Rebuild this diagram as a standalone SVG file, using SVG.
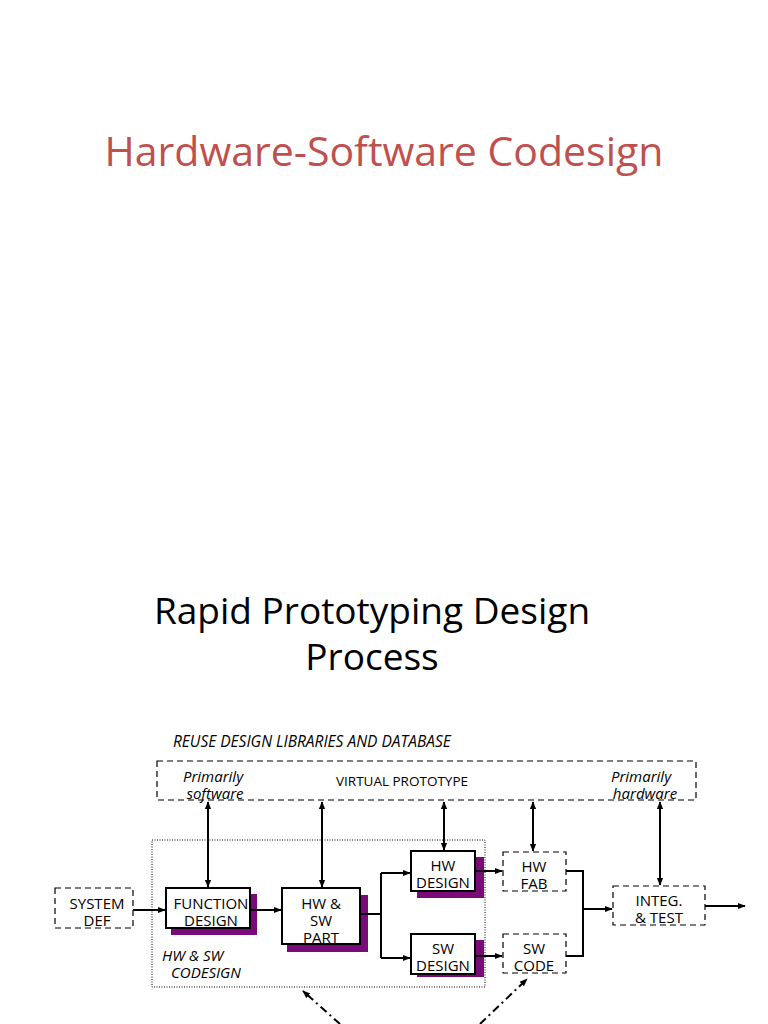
<svg xmlns="http://www.w3.org/2000/svg" width="768" height="1024" viewBox="0 0 768 1024">
<defs>
<marker id="a" viewBox="0 0 10 10" refX="9" refY="5" markerWidth="8" markerHeight="8" markerUnits="userSpaceOnUse" orient="auto-start-reverse"><path d="M0,1 L10,5 L0,9 z" fill="#000"/></marker>
<style>
text{font-family:"Open Sans","Liberation Sans",sans-serif;fill:#000}
.t{font-size:15px;text-anchor:middle}
.i{font-size:15px;font-style:italic}
.box{fill:#fff;stroke:#000;stroke-width:2}
.dash{fill:#fff;stroke:#000;stroke-width:1.2;stroke-dasharray:6,4}
.sh{fill:#7a0a7a}
.c{fill:none;stroke:#000;stroke-width:2}
</style>
</defs>
<rect width="768" height="1024" fill="#fff"/>
<text x="384" y="166" style="font-size:41px;fill:#c0504d" text-anchor="middle">Hardware-Software Codesign</text>
<text x="372" y="624" style="font-size:37px" text-anchor="middle">Rapid Prototyping Design</text>
<text x="372" y="670" style="font-size:37px" text-anchor="middle">Process</text>
<text x="173" y="747" class="i" style="font-size:15.5px">REUSE DESIGN LIBRARIES AND DATABASE</text>
<g id="vp"><rect x="157" y="761" width="539" height="39" class="dash"/>
<text x="213" y="782" class="i" text-anchor="middle">Primarily</text><text x="215" y="799" class="i" text-anchor="middle">software</text>
<text x="402" y="786" class="t" style="font-size:13.5px">VIRTUAL PROTOTYPE</text>
<text x="641" y="782" class="i" text-anchor="middle">Primarily</text><text x="645" y="799" class="i" text-anchor="middle">hardware</text></g>
<g id="codesign"><rect x="152" y="840" width="333" height="147" fill="none" stroke="#000" stroke-width="1" stroke-dasharray="1,1.5"/>
<text x="162" y="961" class="i">HW &amp; SW</text><text x="171" y="978" class="i">CODESIGN</text></g>
<g id="sysdef"><rect x="55" y="888" width="78" height="40" class="dash"/><text x="97" y="909" class="t">SYSTEM</text><text x="97" y="926" class="t">DEF</text></g>
<g id="func"><rect x="171" y="894" width="86" height="41" class="sh"/><rect x="166" y="888" width="84" height="40" class="box"/><text x="211" y="909" class="t">FUNCTION</text><text x="211" y="926" class="t">DESIGN</text></g>
<g id="part"><rect x="287" y="895" width="81" height="57" class="sh"/><rect x="282" y="888" width="78" height="56" class="box"/><text x="321" y="909" class="t">HW &amp;</text><text x="321" y="926" class="t">SW</text><text x="321" y="943" class="t">PART</text></g>
<g id="hwd"><rect x="417" y="857" width="67" height="41" class="sh"/><rect x="411" y="851" width="64" height="40" class="box"/><text x="443" y="871" class="t">HW</text><text x="443" y="888" class="t">DESIGN</text></g>
<g id="swd"><rect x="417" y="940" width="67" height="37" class="sh"/><rect x="411" y="934" width="64" height="40" class="box"/><text x="443" y="954" class="t">SW</text><text x="443" y="971" class="t">DESIGN</text></g>
<g id="hwfab"><rect x="503" y="852" width="63" height="39" class="dash"/><text x="534" y="872" class="t">HW</text><text x="534" y="889" class="t">FAB</text></g>
<g id="swcode"><rect x="503" y="934" width="63" height="39" class="dash"/><text x="534" y="954" class="t">SW</text><text x="534" y="971" class="t">CODE</text></g>
<g id="integ"><rect x="613" y="886" width="92" height="39" class="dash"/><text x="659" y="906" class="t">INTEG.</text><text x="659" y="923" class="t">&amp; TEST</text></g>
<g id="connectors">
<path d="M133,910 H165" class="c" marker-end="url(#a)"/>
<path d="M250,910 H281" class="c" marker-end="url(#a)"/>
<path d="M360,914 H381 M381,873 V958" class="c"/>
<path d="M381,873 H410" class="c" marker-end="url(#a)"/>
<path d="M381,958 H410" class="c" marker-end="url(#a)"/>
<path d="M475,871 H502" class="c" marker-end="url(#a)"/>
<path d="M475,956 H502" class="c" marker-end="url(#a)"/>
<path d="M566,871 H583 V956 H566" class="c"/>
<path d="M583,909 H612" class="c" marker-end="url(#a)"/>
<path d="M705,906 H745" class="c" marker-end="url(#a)"/>
<path d="M208,802 V887" class="c" marker-start="url(#a)" marker-end="url(#a)"/>
<path d="M322,802 V887" class="c" marker-start="url(#a)" marker-end="url(#a)"/>
<path d="M444,802 V850" class="c" marker-start="url(#a)" marker-end="url(#a)"/>
<path d="M533,802 V851" class="c" marker-start="url(#a)" marker-end="url(#a)"/>
<path d="M660,802 V885" class="c" marker-start="url(#a)" marker-end="url(#a)"/>
<path d="M340,1024 L303,991" class="c" stroke-dasharray="8,4,2,4" marker-end="url(#a)"/>
<path d="M480,1024 L527,979" class="c" stroke-dasharray="8,4,2,4" marker-end="url(#a)"/>
</g>
</svg>
